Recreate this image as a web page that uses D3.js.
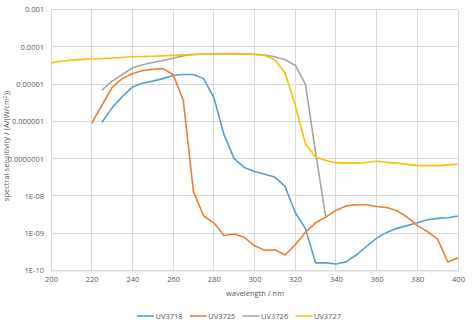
<!DOCTYPE html>
<html><head><meta charset="utf-8">
<script src="https://cdn.jsdelivr.net/npm/d3@7/dist/d3.min.js"></script>
<style>body{margin:0;background:#fff}svg{display:block}text{font-family:"Open Sans",sans-serif;fill:#595959}</style>
</head><body>
<script>
const seriesNames = ["UV3718","UV3725","UV3726","UV3727"];
const colors = ["#5B9BD5","#ED7D31","#A5A5A5","#FFC000"];
const xTicks = [200,220,240,260,280,300,320,340,360,380,400];
const yTicks = [1e-3,1e-4,1e-5,1e-6,1e-7,1e-8,1e-9,1e-10];
const yTickLabels = ["0.001","0.0001","0.00001","0.000001","0.0000001","1E-08","1E-09","1E-10"];

const uv3718_x = [225,230,235,240,245,250,255,260,265,270,275,280,285,290,295,300,305,310,315,320,325,330,335,340,345,350,355,360,365,370,375,380,385,390,395,400];
const uv3718_y = [9.3e-7,2.3e-6,4.6e-6,8.3e-6,1.05e-5,1.2e-5,1.4e-5,1.7e-5,1.8e-5,1.8e-5,1.4e-5,4.4e-6,4.4e-7,1.0e-7,5.8e-8,4.5e-8,3.8e-8,3.2e-8,1.8e-8,3.6e-9,1.35e-9,1.6e-10,1.6e-10,1.5e-10,1.7e-10,2.6e-10,4.4e-10,7.4e-10,1.05e-9,1.35e-9,1.6e-9,1.9e-9,2.3e-9,2.5e-9,2.6e-9,2.9e-9];

const uv3725_x = [220,225,230,235,240,245,250,255,260,265,270,275,280,285,290,295,300,305,310,315,320,325,330,335,340,345,350,355,360,365,370,375,380,385,390,395,400];
const uv3725_y = [8.9e-7,2.7e-6,8.1e-6,1.4e-5,1.9e-5,2.3e-5,2.5e-5,2.6e-5,1.8e-5,3.7e-6,1.3e-8,2.9e-9,1.9e-9,8.7e-10,9.5e-10,7.8e-10,4.6e-10,3.5e-10,3.6e-10,2.6e-10,4.9e-10,1.05e-9,1.9e-9,2.7e-9,4.1e-9,5.4e-9,5.8e-9,5.8e-9,5.2e-9,4.9e-9,4.0e-9,2.7e-9,1.6e-9,1.1e-9,6.9e-10,1.7e-10,2.2e-10];

const uv3726_x = [225,230,235,240,245,250,255,260,265,270,280,290,300,305,310,315,320,325,330,335];
const uv3726_y = [6.9e-6,1.2e-5,1.8e-5,2.7e-5,3.3e-5,3.8e-5,4.3e-5,4.9e-5,5.8e-5,6.2e-5,6.5e-5,6.6e-5,6.3e-5,6.0e-5,5.4e-5,4.5e-5,3.2e-5,1.0e-5,1.5e-7,2.7e-9];

const uv3727_x = [200,205,210,215,220,230,240,250,260,270,280,290,300,305,310,315,320,325,330,335,340,345,350,355,360,365,370,375,380,385,390,395,400];
const uv3727_y = [3.7e-5,4.1e-5,4.4e-5,4.6e-5,4.7e-5,5.0e-5,5.4e-5,5.6e-5,5.9e-5,6.2e-5,6.4e-5,6.4e-5,6.2e-5,5.9e-5,4.4e-5,2.0e-5,2.7e-6,2.5e-7,1.1e-7,8.9e-8,7.8e-8,7.6e-8,7.6e-8,7.9e-8,8.5e-8,8.0e-8,7.6e-8,7.0e-8,6.5e-8,6.5e-8,6.5e-8,6.8e-8,7.1e-8];

const seriesX = [uv3718_x, uv3725_x, uv3726_x, uv3727_x];
const seriesY = [uv3718_y, uv3725_y, uv3726_y, uv3727_y];

const W = 474, H = 329;
const svg = d3.select("body").append("svg").attr("width", W).attr("height", H);
const x = d3.scaleLinear().domain([200,400]).range([51, 458]);
const y = d3.scaleLog().domain([1e-10,1e-3]).range([270.5, 9.5]);

const grid = svg.append("g");
grid.selectAll("line.v").data(xTicks).join("line")
  .attr("x1", d=>x(d)).attr("x2", d=>x(d)).attr("y1", y(1e-3)).attr("y2", y(1e-10))
  .attr("stroke", "#d9d9d9").attr("stroke-width", 1).attr("shape-rendering","crispEdges");
grid.selectAll("line.h").data(yTicks).join("line")
  .attr("x1", x(200)).attr("x2", x(400)).attr("y1", d=>y(d)).attr("y2", d=>y(d))
  .attr("stroke", "#d9d9d9").attr("stroke-width", 1).attr("shape-rendering","crispEdges");

// axes (labels only)
const xAxis = d3.axisBottom(x).tickValues(xTicks).tickSize(0).tickPadding(6);
const gx = svg.append("g").attr("transform", `translate(0,${y(1e-10)})`).call(xAxis);
gx.select(".domain").attr("stroke","#d9d9d9");
gx.selectAll("text").style("font-size","7.5px").style("fill","#595959").style("font-family","Open Sans");

const yAxis = d3.axisLeft(y).tickValues(yTicks).tickFormat((d,i)=>yTickLabels[i]).tickSize(0).tickPadding(7);
const gy = svg.append("g").attr("transform", `translate(${x(200)},0)`).call(yAxis);
gy.select(".domain").remove();
gy.selectAll("text").style("font-size","7.5px").style("fill","#595959").style("font-family","Open Sans");

const line = d3.line().x(d=>x(d[0])).y(d=>y(d[1]));
seriesNames.forEach((n,i)=>{
  const pts = seriesX[i].map((v,j)=>[v, seriesY[i][j]]);
  svg.append("path").datum(pts).attr("d", line).attr("fill","none")
    .attr("stroke", colors[i]).attr("stroke-width", 1.6).attr("stroke-linejoin","round");
});

svg.append("text").attr("x", 255).attr("y", 296).attr("text-anchor","middle")
  .style("font-size","7.5px").text("wavelength / nm");

const yt = svg.append("text").attr("transform","translate(9,146) rotate(-90)").attr("text-anchor","middle")
  .style("font-size","7.5px");
yt.append("tspan").text("spectral sensitivity / (A/(W/cm");
yt.append("tspan").attr("dy",-2.5).style("font-size","5px").text("2");
yt.append("tspan").attr("dy",2.5).text("))");

const leg = svg.append("g");
seriesNames.forEach((n,i)=>{
  const lx = 137 + i*52.8;
  leg.append("line").attr("x1", lx).attr("x2", lx+17).attr("y1", 316).attr("y2", 316)
    .attr("stroke", colors[i]).attr("stroke-width", 1.6);
  leg.append("text").attr("x", lx+18.5).attr("y", 318.5).style("font-size","7.5px").text(n);
});
</script>
</body></html>
